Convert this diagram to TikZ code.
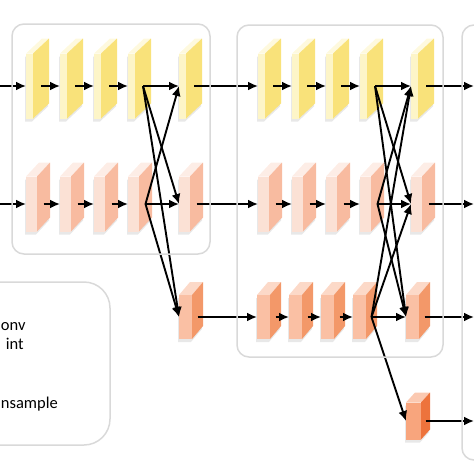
\documentclass[tikz,border=0pt]{standalone}
\usepackage{fontspec}
\setmainfont{Carlito}
\usetikzlibrary{arrows.meta}

\definecolor{ylwF}{HTML}{FDF5C8}
\definecolor{ylwS}{HTML}{F9E27A}
\definecolor{pnkF}{HTML}{FBE1D5}
\definecolor{pnkS}{HTML}{F8BBA0}
\definecolor{orgF}{HTML}{FAC0A4}
\definecolor{orgS}{HTML}{F39869}
\definecolor{redF}{HTML}{F8A57D}
\definecolor{redS}{HTML}{ED733C}

% slab: name, x, y, thickness, depth, rise, height, front, side
\newcommand{\slab}[9]{%
  \fill[gray!18] ({#2-1},{#3-#7/2+3}) -- ++(#4,0) -- ++(#5,-#6) -- ++(0,#7) -- ++(-#5,#6) -- ++(-#4,0) -- cycle;
  \fill[#8!60!white] (#2,{#3-#7/2}) -- ++(#4,0) -- ++(#5,-#6) -- ++(-#4,0) -- cycle;
  \fill[#8] (#2,{#3-#7/2}) rectangle ++(#4,#7);
  \fill[#9] ({#2+#4},{#3-#7/2}) -- ++(#5,-#6) -- ++(0,#7) -- ++(-#5,#6) -- cycle;
  \coordinate (#1-in) at (#2,#3);
  \coordinate (#1-out) at ({#2+#4+#5/2},#3);
}
\newcommand{\slabA}[3]{\slab{#1}{#2}{#3}{7}{16}{15}{65}{ylwF}{ylwS}}
\newcommand{\slabB}[3]{\slab{#1}{#2}{#3}{11}{13}{14}{55}{pnkF}{pnkS}}
\newcommand{\slabC}[3]{\slab{#1}{#2}{#3}{13}{11}{13}{44}{orgF}{orgS}}
\newcommand{\slabD}[3]{\slab{#1}{#2}{#3}{15}{9}{10}{37}{redF}{redS}}

\begin{document}
\begin{tikzpicture}[x=1pt,y=-1pt,-{Latex[length=10pt,width=9pt]},line width=1.9pt,
    stage/.style={draw=gray!30,line width=1.5pt,rounded corners=12pt},
    legend/.style={draw=gray!30,line width=1.5pt,rounded corners=26pt},
    lbl/.style={anchor=base west,inner sep=0pt,font=\fontsize{16.5}{20}\selectfont}
    ]
    \clip (0,0) rectangle (474,474);

    % stage 1
    \foreach \i/\x in {1/26,2/60,3/94,4/128,5/179} {\slabA{a1-\i}{\x}{86} \slabB{a2-\i}{\x}{204}}
    \slabC{a3-5}{179}{317}
    % stage 2
    \foreach \i/\x in {1/258,2/292,3/326,4/360,5/411} {\slabA{b1-\i}{\x}{86} \slabB{b2-\i}{\x}{204}}
    \foreach \i/\x in {1/257,2/289,3/321,4/353,5/406} {\slabC{b3-\i}{\x}{317}}
    \slabD{b4-5}{406}{421}

    \coordinate (in1) at (0,86);
    \coordinate (in2) at (0,204);
    \coordinate (out1) at (474,86);
    \coordinate (out2) at (474,204);
    \coordinate (out3) at (474,317);
    \coordinate (out4) at (474,421);

    \draw (in1) -- (a1-1-in);
    \draw (in2) -- (a2-1-in);
    \foreach \r in {1,2} \foreach \i/\j in {1/2,2/3,3/4} \draw (a\r-\i-out) -- (a\r-\j-in);
    \foreach \r in {1,2} \foreach \t in {1,2,3} \draw (a\r-4-out) -- (a\t-5-in);
    \foreach \r in {1,2,3} \draw (a\r-5-out) -- (b\r-1-in);
    \foreach \r in {1,2,3} \foreach \i/\j in {1/2,2/3,3/4} \draw (b\r-\i-out) -- (b\r-\j-in);
    \foreach \r in {1,2,3} \foreach \t in {1,2,3} \draw (b\r-4-out) -- (b\t-5-in);
    \draw (b3-4-out) -- (b4-5-in);
    \foreach \r in {1,2,3,4} \draw (b\r-5-out) -- (out\r);

    % frames
    \draw[stage] (12,24) rectangle (210,254);
    \draw[stage] (237,25) rectangle (443,357);
    \draw[stage] (462,25) rectangle (540,460);
    \draw[legend] (-60,282) rectangle (110,445);

    \node[lbl] (lg1) at (0,330) {onv};
    \node[lbl] (lg2) at (5,349) {int};
    \node[lbl] (lg3) at (0,408) {nsample};
\end{tikzpicture}
\end{document}
